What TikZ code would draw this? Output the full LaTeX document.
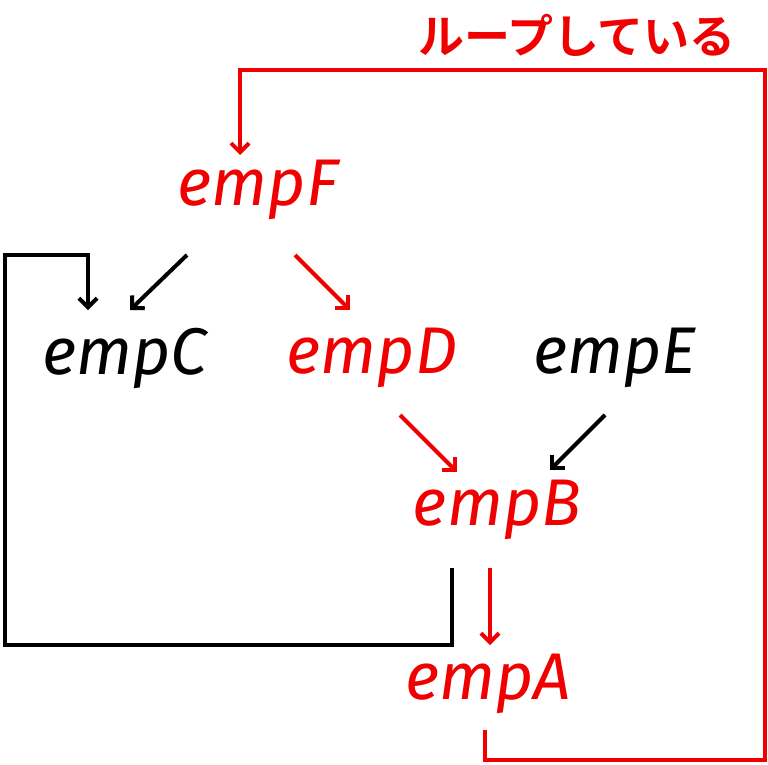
\documentclass[tikz,border=0pt]{standalone}
\usepackage{fontspec}
\setmainfont{Fira Sans}
\newfontfamily\jpfont{Noto Sans CJK JP}[BoldFont={* Bold}]
\usetikzlibrary{arrows.meta}
\definecolor{rd}{RGB}{240,0,0}
\begin{document}
\begin{tikzpicture}[x=1pt,y=-1pt,
  lbl/.style={font=\fontsize{66}{72}\selectfont\itshape, inner sep=0},
  con/.style={line width=4pt, -{Straight Barb[length=9pt,width=18pt,line width=4pt]}}]
\useasboundingbox[fill=white] (0,0) rectangle (768,765);
\node[text=rd, font=\jpfont\bfseries\fontsize{46}{50}\selectfont] (t) at (577,35) {ループしている};
\node[lbl,text=rd] (F) at (258,190) {empF};
\node[lbl] (C) at (125,358) {empC};
\node[lbl,text=rd] (D) at (372,358) {empD};
\node[lbl] (E) at (615,358) {empE};
\node[lbl,text=rd] (B) at (497,510) {empB};
\node[lbl,text=rd] (A) at (488,684) {empA};
\coordinate (f1) at (187,255); \coordinate (c1) at (130,310);
\coordinate (f2) at (295,255); \coordinate (d1) at (350,310);
\coordinate (d2) at (400,415); \coordinate (b1) at (457,472);
\coordinate (e2) at (605,415); \coordinate (b2) at (550,470);
\coordinate (b3) at (490,568); \coordinate (a1) at (490,645);
\draw[con] (f1) -- (c1);
\draw[con,rd] (f2) -- (d1);
\draw[con,rd] (d2) -- (b1);
\draw[con] (e2) -- (b2);
\draw[con,rd] (b3) -- (a1);
\coordinate (bl) at (452,568); \coordinate (cl) at (88,310);
\draw[con] (bl) -- (452,645) -- (5,645) -- (5,255) -- (88,255) -- (cl);
\coordinate (al) at (485,730); \coordinate (fl) at (240,155);
\draw[con,rd] (al) -- (485,760) -- (765,760) -- (765,70) -- (240,70) -- (fl);
\end{tikzpicture}
\end{document}
